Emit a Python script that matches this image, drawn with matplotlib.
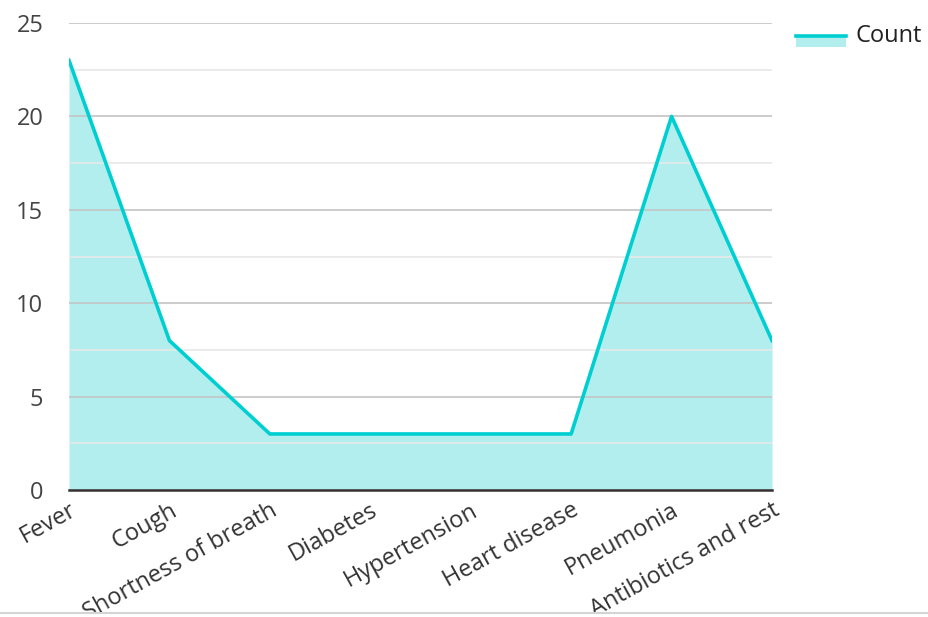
import matplotlib
matplotlib.use("Agg")
import matplotlib.pyplot as plt
from matplotlib.patches import Rectangle
from matplotlib.lines import Line2D

# -----------------------------
# data
# -----------------------------
categories = ["Fever", "Cough", "Shortness of breath", "Diabetes",
              "Hypertension", "Heart disease", "Pneumonia", "Antibiotics and rest"]
counts = [23, 8, 3, 3, 3, 3, 20, 8]
y_ticks = [0, 5, 10, 15, 20, 25]
series_name = "Count"

line_color = "#00cfd1"
fill_color = "#b2eeee"

plt.rcParams["font.family"] = ["Open Sans", "DejaVu Sans"]

W, H = 929, 617
fig = plt.figure(figsize=(W / 100, H / 100), dpi=100)
ax = fig.add_axes([69 / W, 1 - 490 / H, 703 / W, 467 / H])

x = list(range(len(categories)))
ax.fill_between(x, counts, 0, color=fill_color, linewidth=0, zorder=1)
ax.plot(x, counts, color=line_color, linewidth=2.6, zorder=3)

ax.set_xlim(0, len(categories) - 1)
ax.set_ylim(0, 25)

# grid: major every 5, minor halfway
ax.set_yticks(y_ticks)
ax.set_yticks([2.5, 7.5, 12.5, 17.5, 22.5], minor=True)
ax.grid(axis="y", which="major", color="#c4c4c4", linewidth=1.2, zorder=2)
ax.grid(axis="y", which="minor", color="#e8e8e8", linewidth=1.2, zorder=2)
ax.set_axisbelow(False)

for s in ["left", "right", "top"]:
    ax.spines[s].set_visible(False)
ax.spines["bottom"].set_color("#333333")
ax.spines["bottom"].set_linewidth(1.8)
ax.spines["bottom"].set_zorder(4)

ax.tick_params(axis="y", which="both", length=0, pad=18.5, labelsize=17, labelcolor="#444444")
ax.tick_params(axis="x", length=0, pad=6, labelsize=17, labelcolor="#333333")
ax.set_xticks(x)
ax.set_xticklabels(categories, rotation=29, ha="right", va="top", rotation_mode="anchor")

# -----------------------------
# legend (drawn by hand)
# -----------------------------
fig.add_artist(Rectangle((796 / W, 1 - 47 / H), 50 / W, 11 / H,
                         transform=fig.transFigure, color=fill_color, linewidth=0))
fig.add_artist(Line2D([796 / W, 846 / W], [1 - 35.5 / H, 1 - 35.5 / H],
                      transform=fig.transFigure, color=line_color, linewidth=2.6))
fig.text(856 / W, 1 - 36 / H, series_name, fontsize=17, color="#222222", va="center", ha="left")

# bottom frame line that cuts the labels
fig.add_artist(Rectangle((0, 0), 1, 5 / H, transform=fig.transFigure,
                         facecolor="white", edgecolor="none", zorder=10))
fig.add_artist(Line2D([0, 1], [4.5 / H, 4.5 / H], transform=fig.transFigure,
                      color="#d4d4d4", linewidth=1.5, zorder=11))

fig.savefig("out.png", dpi=100)
